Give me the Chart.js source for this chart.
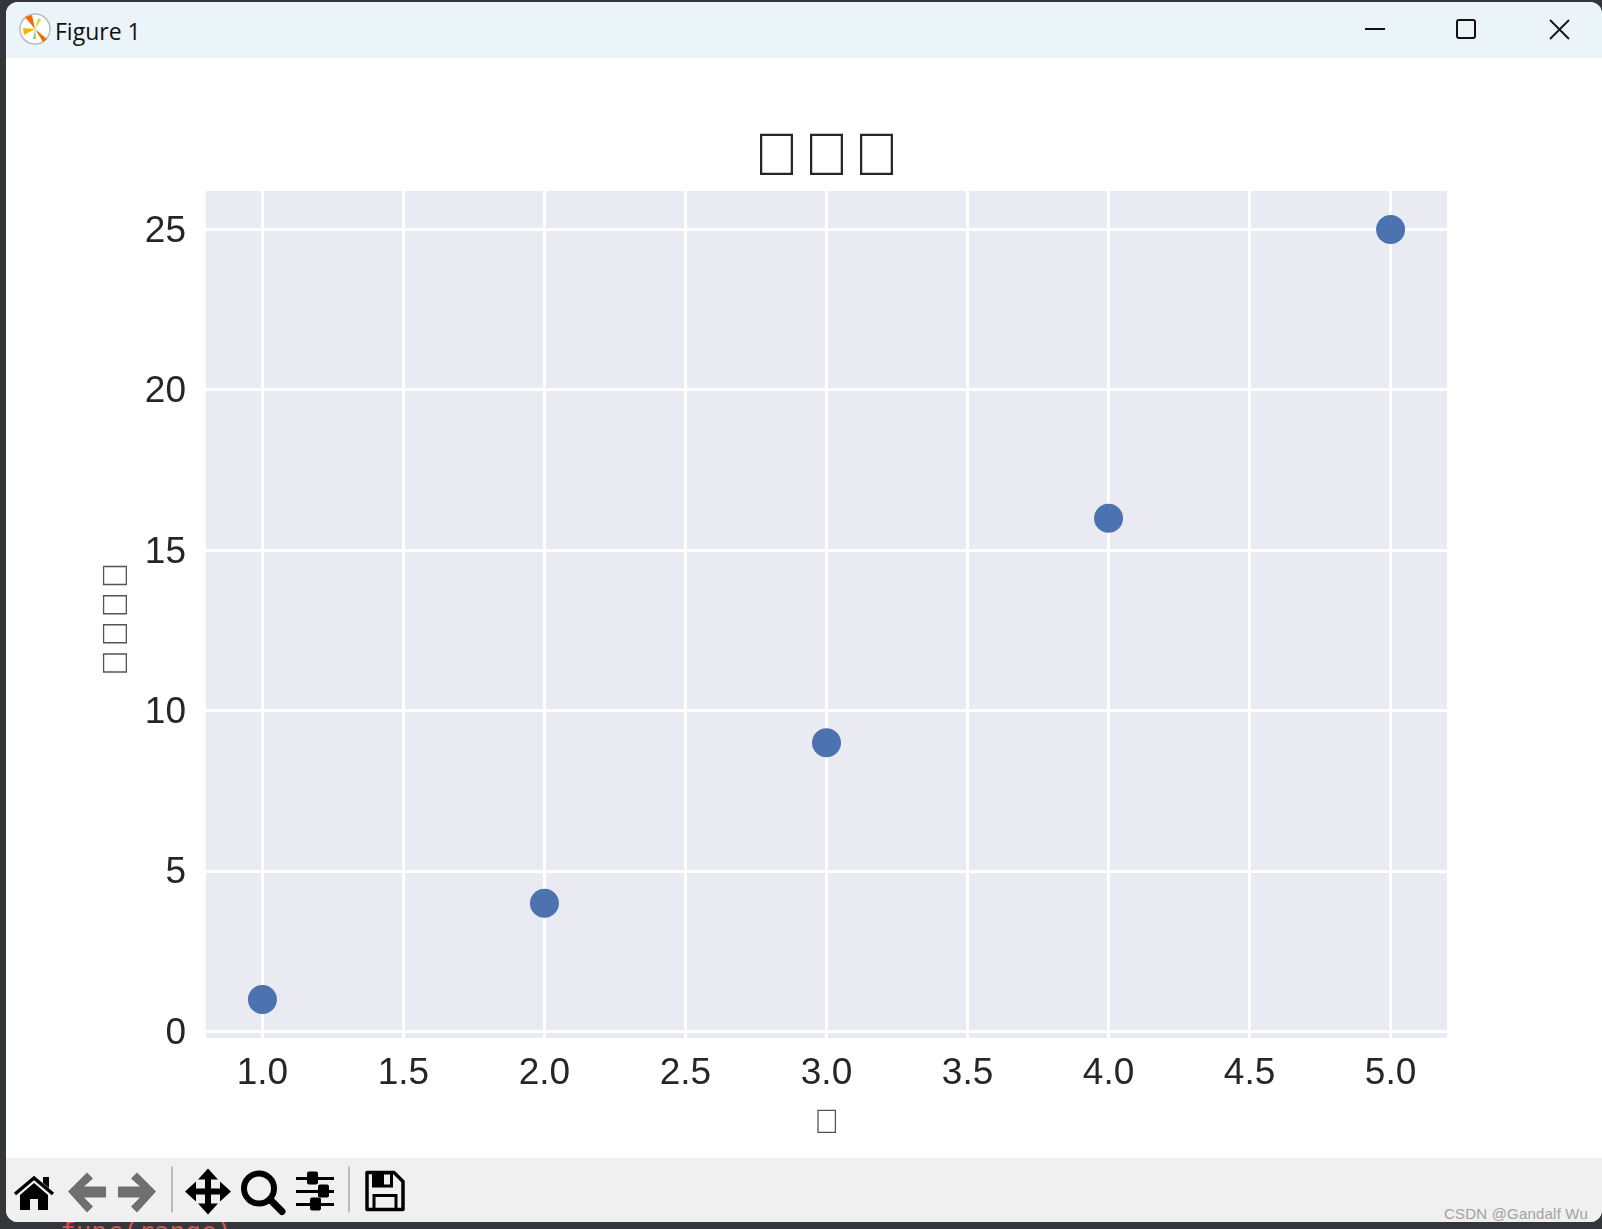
<!DOCTYPE html>
<html>
<head>
<meta charset="utf-8">
<title>Figure 1</title>
<script src="https://cdn.jsdelivr.net/npm/chart.js@4"></script>
<style>
  html, body { margin: 0; padding: 0; background: #33363a; }
  body { width: 1602px; height: 1229px; position: relative; overflow: hidden; font-family: "Open Sans", sans-serif; }
  #win { position: absolute; left: 6px; top: 2px; width: 1596px; height: 1220px; background: #fff; border-radius: 12px; overflow: hidden; }
  #bar { position: absolute; left: 0; top: 0; width: 1596px; height: 56px; background: #ebf4f9; }
  #bar .name { position: absolute; left: 49px; top: 12px; font: 23px/34px "Open Sans", sans-serif; color: #111; }
  #tools { position: absolute; left: 0; top: 1156px; width: 1596px; height: 64px; background: #f0f0f0; }
  #chartBox { position: absolute; left: 0; top: 56px; width: 1596px; height: 1100px; background: #fff; }
  canvas { display: block; }
  svg { position: absolute; left: 0; top: 0; }
  #mark { position: absolute; right: 14px; bottom: 0; font: 15px "Liberation Sans", sans-serif; color: #a2a2a2; letter-spacing: 0.2px; }
  #under { position: absolute; left: 60px; top: 1217px; font: 26px "DejaVu Sans Mono", monospace; color: #d9534f; }
</style>
</head>
<body>
<div id="under">func(range)</div>
<div id="win">
  <div id="bar">
    <svg width="1596" height="56">
      <circle cx="29" cy="27" r="15" fill="#fff" stroke="#bbb" stroke-width="1.5"/>
      <path d="M29 27 L19 15 L26 13 Z" fill="#f26a00"/>
      <path d="M29 27 L41 37 L37 40 Z" fill="#f26a00"/>
      <path d="M29 27 L17 26 L18 33 Z" fill="#f5b400"/>
      <path d="M29 27 L35 18 L32 16 Z" fill="#c6e03a"/>
      <path d="M29 27 L27 37 L30 37 Z" fill="#7ed67a"/>
      <path d="M1359 27 H1379" stroke="#111" stroke-width="2"/>
      <rect x="1451" y="18" width="18" height="18" rx="2" fill="none" stroke="#111" stroke-width="2"/>
      <path d="M1544 18 L1563 37 M1563 18 L1544 37" stroke="#111" stroke-width="1.8"/>
    </svg>
    <div class="name">Figure 1</div>
  </div>
  <div id="chartBox"><canvas id="fig" width="1596" height="1100"></canvas></div>
  <div id="tools">
    <svg width="1596" height="64">
      <defs>
        <pattern id="dots" width="2" height="2" patternUnits="userSpaceOnUse">
          <rect width="1" height="1" fill="#000"/><rect x="1" y="1" width="1" height="1" fill="#000"/>
          <rect x="1" width="1" height="1" fill="#ddd"/><rect y="1" width="1" height="1" fill="#ddd"/>
        </pattern>
      </defs>
      <!-- home -->
      <path d="M9 36 L28 20 L47 36" fill="none" stroke="#000" stroke-width="3.5"/>
      <path d="M37 19 H43 V30 L37 25 Z" fill="#000"/>
      <path d="M14 37 L28 25 L42 37 V52 H32 V41 H24 V52 H14 Z" fill="#000"/>
      <g transform="translate(0,4.5)">
        <!-- back / forward -->
        <path d="M62 29 L81 10 L87 16 L78 24 H100 V35 H78 L87 44 L81 50 Z" fill="url(#dots)"/>
        <path d="M150 29 L131 10 L125 16 L134 24 H112 V35 H134 L125 44 L131 50 Z" fill="url(#dots)"/>
        <path d="M166 4 V50" stroke="#aaa" stroke-width="1.5"/>
        <!-- move -->
        <path d="M202 6 L212 17 H205 V26 H214 V19 L225 29 L214 39 V32 H205 V41 H212 L202 52 L192 41 H199 V32 H190 V39 L179 29 L190 19 V26 H199 V17 H192 Z" fill="#000"/>
        <!-- zoom -->
        <circle cx="253" cy="26" r="15" fill="none" stroke="#000" stroke-width="6"/>
        <path d="M264 37 L276 49" stroke="#000" stroke-width="7" stroke-linecap="round"/>
        <!-- sliders -->
        <path d="M290 16 H328 M290 29 H328 M290 42 H328" stroke="#000" stroke-width="3"/>
        <rect x="301" y="9" width="11" height="13" rx="2" fill="#000"/>
        <rect x="312" y="22" width="11" height="13" rx="2" fill="#000"/>
        <rect x="304" y="35" width="11" height="13" rx="2" fill="#000"/>
        <path d="M343 4 V50" stroke="#aaa" stroke-width="1.5"/>
        <!-- save -->
        <path d="M361 10 H388 L397 19 V47 H361 Z" fill="none" stroke="#000" stroke-width="3.5" stroke-linejoin="round"/>
        <path d="M366 11 H387 V25 H366 Z" fill="#000"/>
        <rect x="378" y="12" width="6" height="10" fill="#f0f0f0"/>
        <path d="M368 47 V33 H390 V47" fill="none" stroke="#000" stroke-width="3"/>
      </g>
    </svg>
    <div id="mark">CSDN @Gandalf Wu</div>
  </div>
</div>
<script>
// values
const xValues = [1, 2, 3, 4, 5];
const yValues = [1, 4, 9, 16, 25];
const xTicks = [1.0, 1.5, 2.0, 2.5, 3.0, 3.5, 4.0, 4.5, 5.0];
const yTicks = [0, 5, 10, 15, 20, 25];
const xRange = [0.8, 5.2];
const yRange = [-0.2, 26.2];
// the source figure had no CJK font, so its labels came out as missing-glyph boxes;
// a private use char gives the same box from Liberation Sans
const box = '\uE000';
const gap = '\u200A';
const titleText = [box, box, box].join(gap);
const yLabelText = [box, box, box, box].join(gap) + ' ';
const xLabelText = box;

const tickFont = { family: '"Liberation Sans", Arial, sans-serif', size: 37 };
const boxFont = (size) => ({ family: '"Liberation Sans", Arial, sans-serif', size: size, weight: 'normal' });

const plotBackground = {
  id: 'plotBackground',
  afterLayout(chart) {
    // center the title over the axes, not the whole canvas
    chart.titleBlock.left = chart.chartArea.left;
    chart.titleBlock.right = chart.chartArea.right;
  },
  beforeDraw(chart) {
    const a = chart.chartArea;
    chart.ctx.fillStyle = '#eaeaf2';
    chart.ctx.fillRect(a.left, a.top, a.width, a.height);
  }
};

new Chart(document.getElementById('fig').getContext('2d'), {
  type: 'scatter',
  data: {
    datasets: [{
      data: xValues.map((x, i) => ({ x: x, y: yValues[i] })),
      backgroundColor: '#4c72b0',
      borderWidth: 0,
      pointRadius: 14.5
    }]
  },
  options: {
    responsive: false,
    animation: false,
    layout: { autoPadding: false, padding: { left: 0, right: 155, top: 0, bottom: 0 } },
    plugins: {
      legend: { display: false },
      tooltip: { enabled: false },
      title: {
        display: true,
        text: titleText,
        color: '#262626',
        font: boxFont(60),
        padding: { top: 64, bottom: -3 }
      }
    },
    scales: {
      x: {
        type: 'linear',
        min: xRange[0],
        max: xRange[1],
        afterBuildTicks: (s) => { s.ticks = xTicks.map(v => ({ value: v })); },
        afterFit: (s) => { s.height = 120; },
        grid: { color: '#ffffff', lineWidth: 3, drawTicks: false },
        border: { display: false },
        ticks: {
          color: '#262626',
          font: tickFont,
          padding: 14,
          maxRotation: 0,
          callback: (v) => v.toFixed(1)
        },
        title: { display: true, text: xLabelText, color: '#555555', font: boxFont(34), padding: { top: 2, bottom: 14 } }
      },
      y: {
        min: yRange[0],
        max: yRange[1],
        afterBuildTicks: (s) => { s.ticks = yTicks.map(v => ({ value: v })); },
        afterFit: (s) => { s.width = 200; },
        grid: { color: '#ffffff', lineWidth: 3, drawTicks: false },
        border: { display: false },
        ticks: { color: '#262626', font: tickFont, padding: 20, labelOffset: 2 },
        title: { display: true, text: yLabelText, color: '#555555', font: boxFont(35), padding: { top: 90, bottom: 0 } }
      }
    }
  },
  plugins: [plotBackground]
});
</script>
</body>
</html>
